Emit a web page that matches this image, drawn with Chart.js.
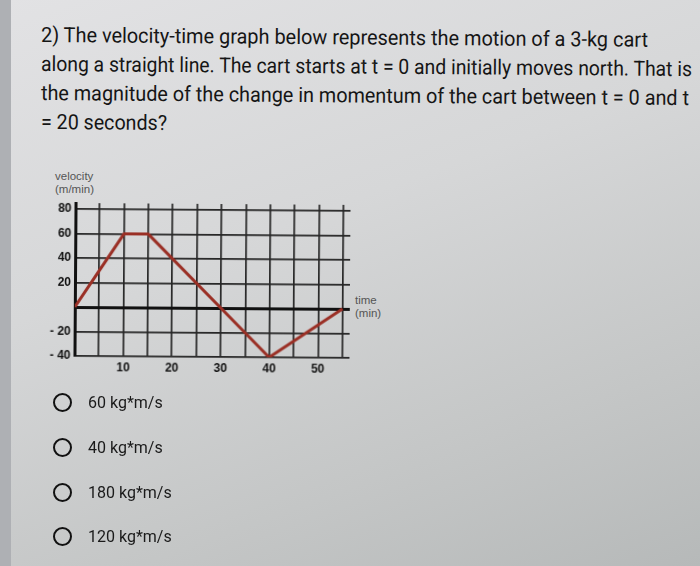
<!DOCTYPE html>
<html>
<head>
<meta charset="utf-8">
<script src="https://cdn.jsdelivr.net/npm/chart.js@4.4.0/dist/chart.umd.min.js"></script>
<style>
  html, body { margin: 0; padding: 0; }
  body {
    width: 700px; height: 566px; overflow: hidden; position: relative;
    background: linear-gradient(160deg, #e2e2e4 0%, #d6d7d8 40%, #c4c6c6 75%, #b6b9b9 100%);
    font-family: Roboto, "Noto Sans", sans-serif; color: #111;
  }
  #strip { position: absolute; left: 0; top: 0; width: 11px; height: 566px; background: #aeb0b4; }
  .q { position: absolute; left: 41px; font-size: 21px; line-height: 29px; white-space: nowrap; color: #151515; transform-origin: 0 50%; }
  .lbl { position: absolute; font-family: "Liberation Sans", Arial, sans-serif; font-size: 11.5px; color: #555; line-height: 13px; }
  .opt { position: absolute; left: 53px; height: 18px; }
  .opt .c { position: absolute; left: 0; top: 0; width: 15px; height: 15px; border: 2px solid #111; border-radius: 50%; }
  .opt span { position: absolute; left: 35px; top: -1px; font-size: 16px; white-space: nowrap; color: #1a1a1a; line-height: 21px; }
  #wrap { position: absolute; left: 0; top: 150px; width: 420px; height: 240px; transform: rotate(0.4deg); transform-origin: 75px 130px; }
</style>
</head>
<body>
<div id="strip"></div>
<div class="q" data-w="607" style="top:21px">2) The velocity-time graph below represents the motion of a 3-kg cart</div>
<div class="q" data-w="651" style="top:50px">along a straight line. The cart starts at t = 0 and initially moves north. That is</div>
<div class="q" data-w="648" style="top:79px">the magnitude of the change in momentum of the cart between t = 0 and t</div>
<div class="q" data-w="126" style="top:108px">= 20 seconds?</div>

<div class="lbl" style="left:55px; top:170px">velocity<br>(m/min)</div>
<div class="lbl" style="left:355px; top:294px">time<br>(min)</div>

<div id="wrap"><canvas id="vt"></canvas></div>

<div class="opt" style="top:393px"><div class="c"></div><span>60 kg*m/s</span></div>
<div class="opt" style="top:438px"><div class="c"></div><span>40 kg*m/s</span></div>
<div class="opt" style="top:483px"><div class="c"></div><span>180 kg*m/s</span></div>
<div class="opt" style="top:527px"><div class="c"></div><span>120 kg*m/s</span></div>

<script>
// time (min) and velocity (m/min) at the corners of the graph
var times = [0, 10, 15, 30, 40, 55];
var velocity = [0, 60, 60, 0, -40, 0];

// grid lines and the labels printed on them
var xGrid = [0, 5, 10, 15, 20, 25, 30, 35, 40, 45, 50, 55];
var xLabels = [10, 20, 30, 40, 50];
var yGrid = [-40, -20, 0, 20, 40, 60, 80];
var yLabels = [80, 60, 40, 20, -20, -40];

// the question text in the photo is narrow and a little tilted
document.querySelectorAll(".q").forEach(function(el) {
  var w = el.getBoundingClientRect().width;
  var k = Number(el.getAttribute("data-w")) / w;
  el.style.transform = "rotate(0.45deg) scaleX(" + k + ")";
});

var points = times.map(function(t, i) {
  return { x: t, y: velocity[i] };
});

new Chart(document.getElementById("vt"), {
  type: 'line',
  data: {
    datasets: [{
      data: points,
      borderColor: "#9a2f25",
      borderWidth: 3,
      pointRadius: 0,
      tension: 0
    }]
  },
  options: {
    responsive: true,
    maintainAspectRatio: false,
    animation: false,
    layout: { padding: { left: 45, right: 70, top: 53, bottom: 4 } },
    plugins: { legend: { display: false }, tooltip: { enabled: false } },
    scales: {
      x: {
        type: 'linear',
        min: 0,
        max: 56.5,
        afterBuildTicks: function(scale) {
          scale.ticks = xGrid.map(function(v) { return { value: v }; });
        },
        afterFit: function(scale) { scale.height = 30; },
        border: { display: false },
        grid: { color: "#262626", lineWidth: 1.7, drawTicks: false },
        ticks: {
          padding: 4,
          color: "#111",
          font: { family: "Liberation Sans", size: 12, weight: 'bold' },
          callback: function(v) { return xLabels.indexOf(v) >= 0 ? String(v) : ''; }
        }
      },
      y: {
        min: -40,
        max: 85,
        afterBuildTicks: function(scale) {
          scale.ticks = yGrid.map(function(v) { return { value: v }; });
        },
        afterFit: function(scale) { scale.width = 30; },
        border: { display: true, color: "#111", width: 3 },
        grid: {
          drawTicks: false,
          color: function(ctx) { return ctx.tick && ctx.tick.value === 0 ? "#111" : "#262626"; },
          lineWidth: function(ctx) { return ctx.tick && ctx.tick.value === 0 ? 3 : 1.7; }
        },
        ticks: {
          padding: 4,
          color: "#111",
          font: { family: "Liberation Sans", size: 12, weight: 'bold' },
          callback: function(v) {
            if (yLabels.indexOf(v) < 0) return '';
            return v < 0 ? '- ' + Math.abs(v) : String(v);
          }
        }
      }
    }
  }
});
</script>
</body>
</html>
